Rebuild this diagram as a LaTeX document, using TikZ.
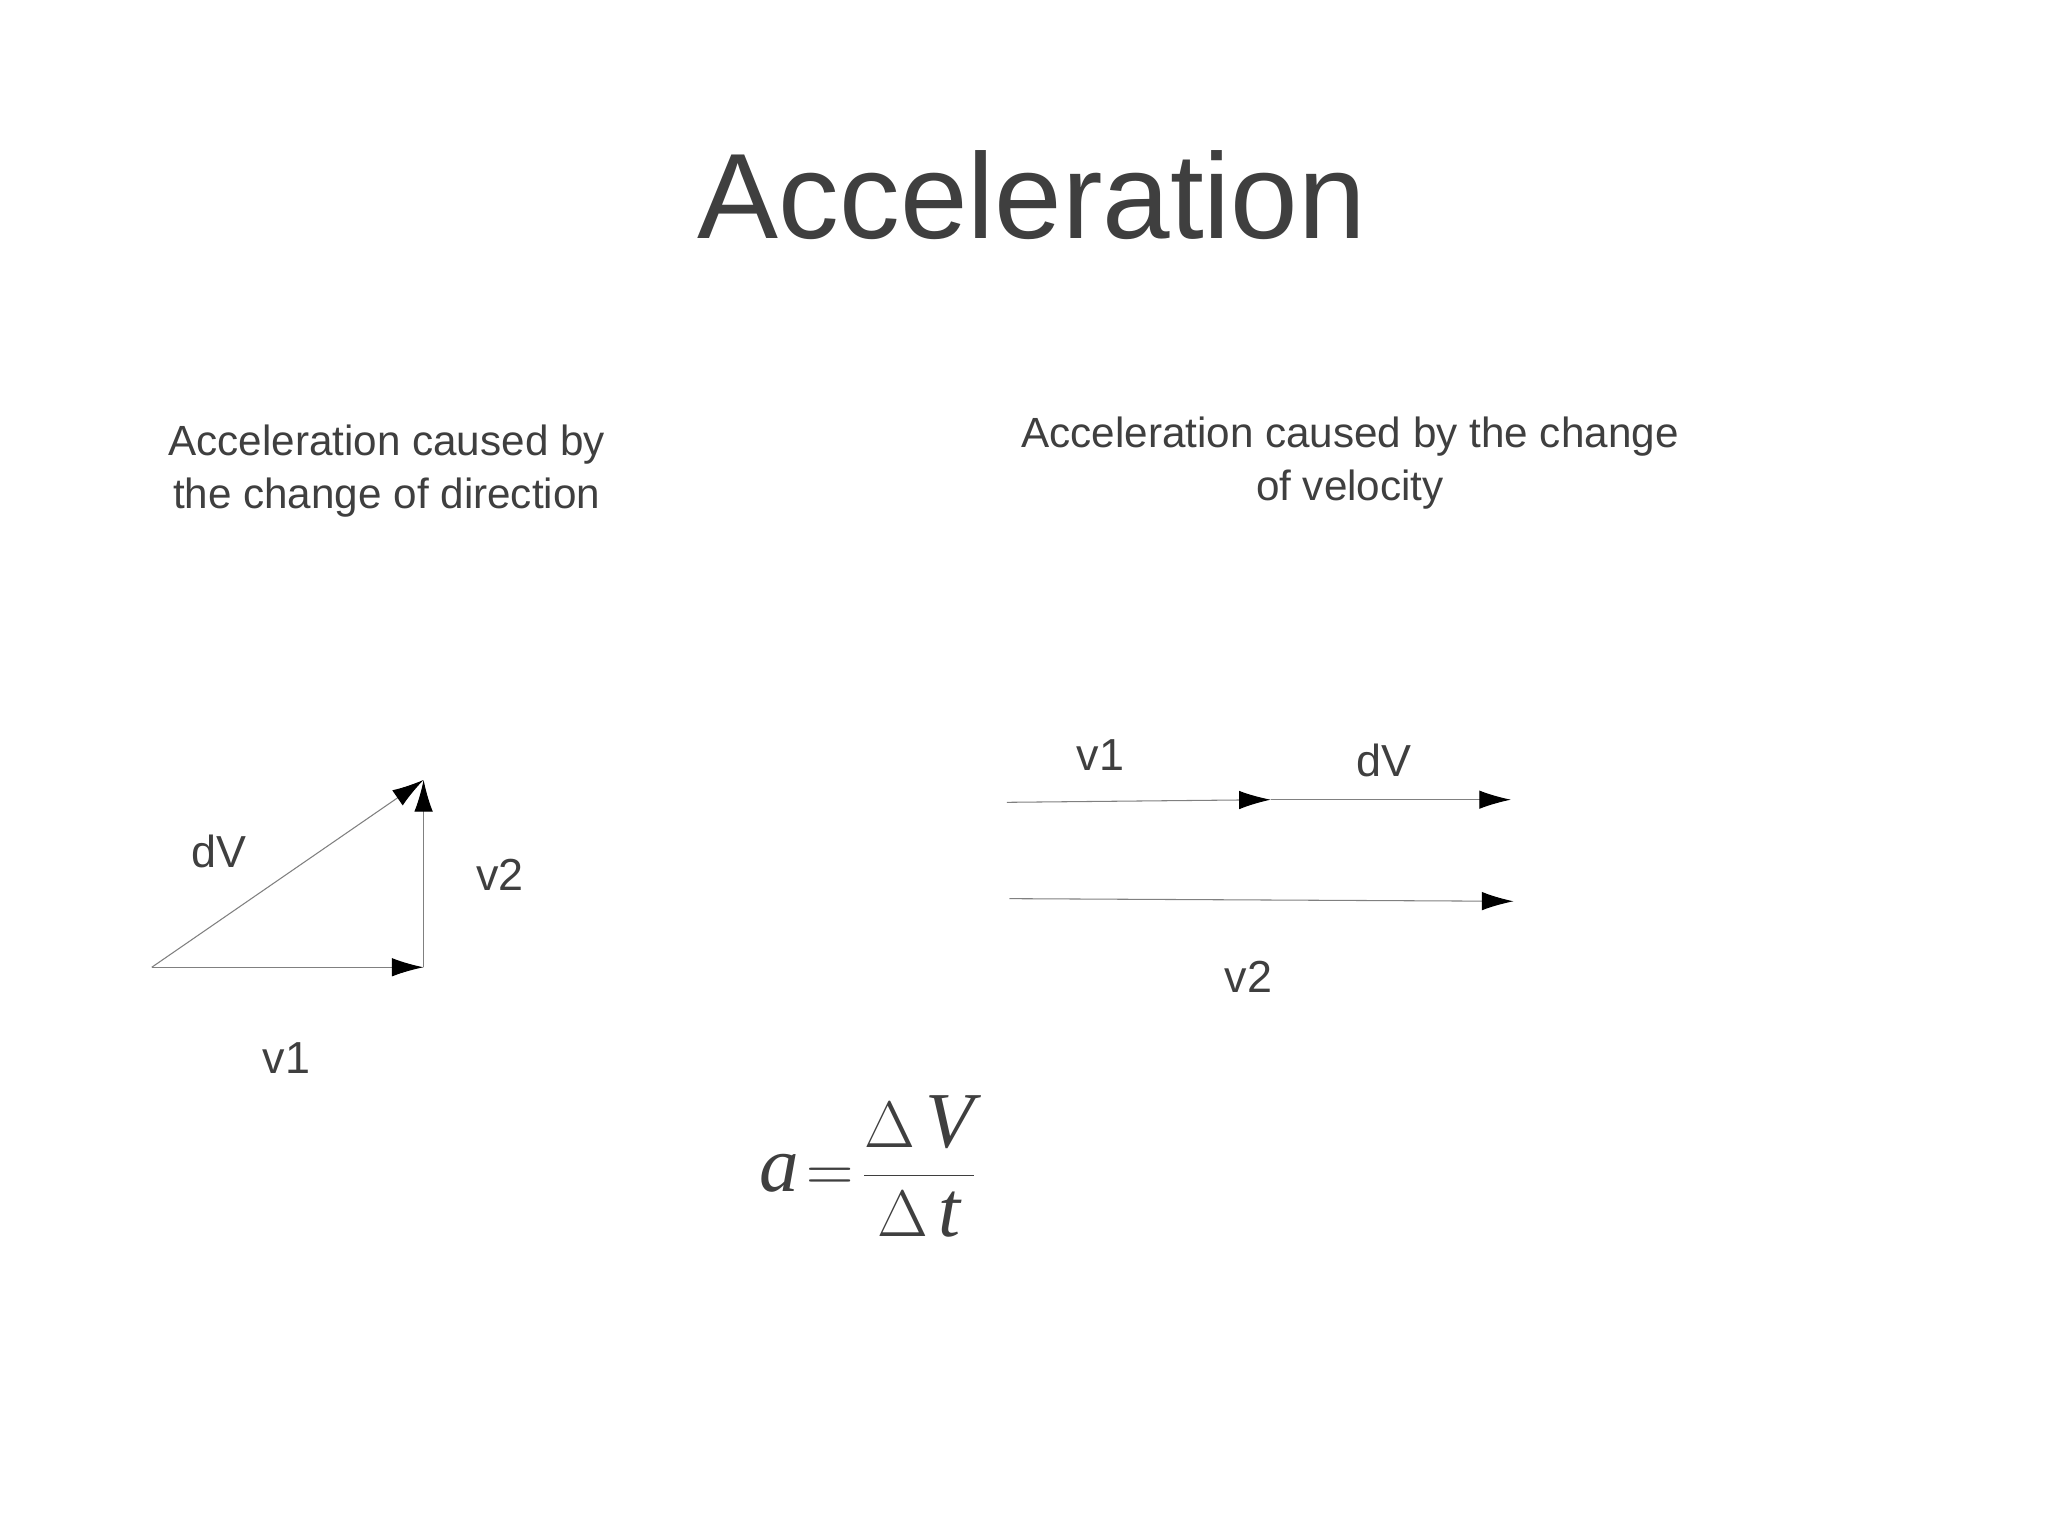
\documentclass[tikz,border=0pt]{standalone}
\usepackage{fontspec}
\setmainfont{Liberation Sans}
\newfontfamily\serif{Liberation Serif}
\usetikzlibrary{arrows.meta}
\definecolor{txt}{HTML}{3F3F3F}
\begin{document}
\begin{tikzpicture}[x=0.5pt,y=-0.5pt,
  lbl/.style={text=txt,font=\fontsize{17}{20}\selectfont,inner sep=0pt},
  sub/.style={text=txt,font=\fontsize{16}{20}\selectfont,align=center,inner sep=0pt},
  vec/.style={draw=gray,line width=0.4pt,-{Latex[length=12pt,width=7pt,black]}}]
\useasboundingbox[fill=white] (0,0) rectangle (1552,1163);
\node[text=txt,font=\fontsize{46}{50}\selectfont,inner sep=0pt] (title) at (782,148) {Acceleration};
\node[sub] (s1) at (293,357) {Acceleration caused by\\the change of direction};
\node[sub] (s2) at (1023,351) {Acceleration caused by the change\\of velocity};
% left triangle
\coordinate (o) at (115,733);
\coordinate (p) at (321,733);
\coordinate (q) at (321,591);
\draw[vec] (o) -- (p);
\draw[vec] (p) -- (q);
\draw[vec] (o) -- (q);
\node[lbl] (ldv) at (166,645) {dV};
\node[lbl] (lv2) at (379,663) {v2};
\node[lbl] (lv1) at (217,802) {v1};
% right
\coordinate (a1) at (763,608);
\coordinate (a2) at (963,606);
\coordinate (a3) at (1145,606);
\coordinate (b1) at (765,681);
\coordinate (b2) at (1147,683);
\draw[vec] (a1) -- (a2);
\draw[vec] (a2) -- (a3);
\draw[vec] (b1) -- (b2);
\node[lbl] (rv1) at (834,572) {v1};
\node[lbl] (rdv) at (1049,576) {dV};
\node[lbl] (rv2) at (946,740) {v2};
% formula
\node[text=txt,font=\serif\fontsize{30}{34}\selectfont,inner sep=0pt] (f) at (658,884)
  {$\displaystyle\textit{a}\!=\!\frac{\Delta\,\textit{V}}{\Delta\,\textit{t}}$};
\end{tikzpicture}
\end{document}
